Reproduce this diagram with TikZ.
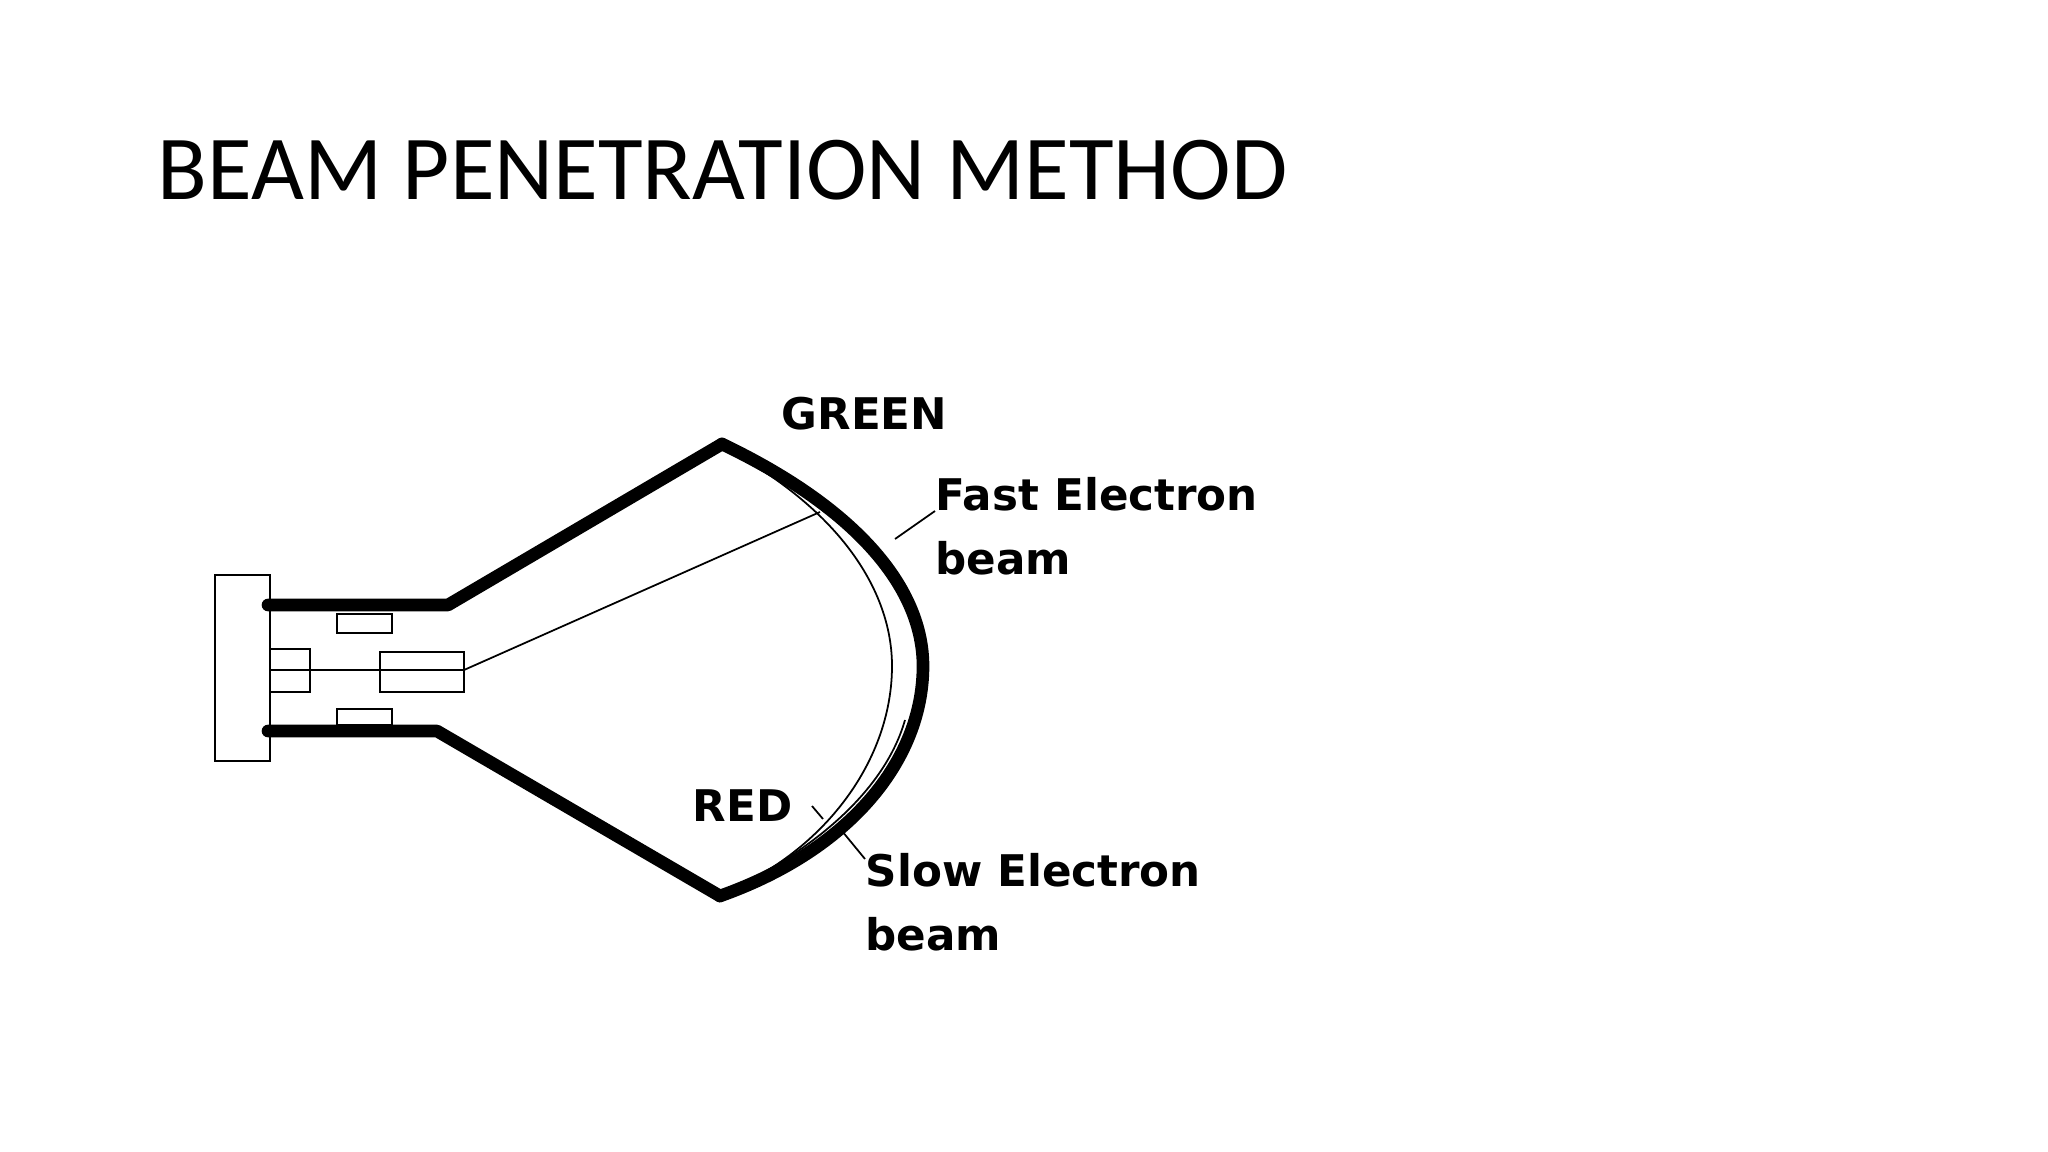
\documentclass[tikz,border=0pt]{standalone}
\usepackage{fontspec}
\setmainfont{Carlito}
\newfontfamily\lblfont{DejaVu Sans}
\begin{document}
\begin{tikzpicture}[x=0.01cm,y=-0.01cm,
  thick line/.style={line width=3.6pt,line join=round,line cap=round},
  thin line/.style={line width=0.5pt},
  lbl/.style={font=\lblfont\bfseries\fontsize{12.4}{14}\selectfont,inner sep=0pt,anchor=west}]
\useasboundingbox (0,0) rectangle (2048,1152);
\node[anchor=west,inner sep=0pt,font=\fontsize{26}{30}\selectfont] (title) at (157,170) {BEAM PENETRATION METHOD};
% base plate and gun
\draw[thin line] (215,575) rectangle (270,761);
\draw[thin line] (337,614) rectangle (392,633);
\draw[thin line] (337,709) rectangle (392,725);
\draw[thin line] (270,649) rectangle (310,692);
\draw[thin line] (380,652) rectangle (464,692);
\draw[thin line] (270,670) -- (464,670);
% envelope
\draw[thick line] (268,605) -- (448,605) -- (722,444);
\draw[thick line] (268,731) -- (437,731) -- (720,896);
\draw[thick line] (722,444) .. controls (860,510) and (923,590) .. (923,666) .. controls (923,760) and (850,850) .. (720,896);
% phosphor layers
\draw[thin line] (732,452) .. controls (845,515) and (892,595) .. (892,666) .. controls (892,760) and (825,850) .. (726,892);
\draw[thin line] (726,892) .. controls (815,850) and (885,790) .. (905,720);
% beam
\draw[thin line] (464,670) -- (820,512);
\draw[thin line] (812,806) -- (823,819);
% labels
\node[lbl] (green) at (781,414) {GREEN};
\node[lbl] (fast1) at (935,494) {Fast Electron};
\node[lbl] (fast2) at (935,558) {beam};
\node[lbl] (red) at (692,806) {RED};
\node[lbl] (slow1) at (865,870) {Slow Electron};
\node[lbl] (slow2) at (865,934) {beam};
\coordinate (fe) at (895,539);
\coordinate (se) at (842,831);
\draw[thin line] (fe) -- (935,511);
\draw[thin line] (se) -- (865,859);
\end{tikzpicture}
\end{document}
